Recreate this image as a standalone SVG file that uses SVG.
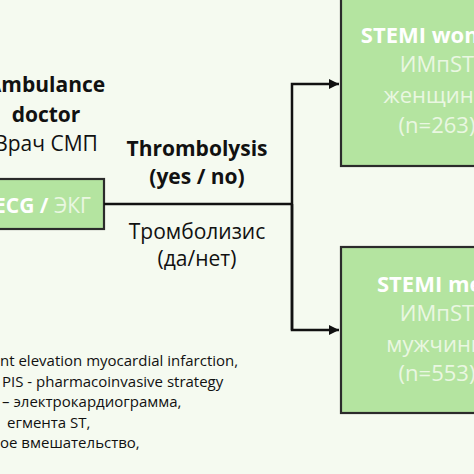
<svg xmlns="http://www.w3.org/2000/svg" width="474" height="474" viewBox="0 0 474 474">
<defs>
<marker id="arr" viewBox="0 0 10 10" refX="10" refY="5" markerWidth="4" markerHeight="4" markerUnits="strokeWidth" orient="auto">
<path d="M0,0 L10,5 L0,10 z" fill="#111"/>
</marker>
<style>
.box{fill:#b4e4a0;stroke:#2b2b2b;stroke-width:2.2}
.t{font-family:"Open Sans","Liberation Sans",sans-serif;fill:#111}
.b{font-weight:bold}
.wb{font-family:"Open Sans","Liberation Sans",sans-serif;font-weight:bold;fill:#ffffff}
.wr{font-family:"Open Sans","Liberation Sans",sans-serif;fill:#eaf7e2}
.conn{fill:none;stroke:#111;stroke-width:2.5}
.fn{font-family:"Open Sans","Liberation Sans",sans-serif;font-size:15px;fill:#111}
</style>
</defs>
<rect x="0" y="0" width="474" height="474" fill="#f5faf0"/>

<g id="ambulance">
<text class="t b" x="46" y="92" font-size="21" text-anchor="middle">Ambulance</text>
<text class="t b" x="46" y="122" font-size="21" text-anchor="middle">doctor</text>
<text class="t" x="46" y="151" font-size="21" text-anchor="middle">Врач СМП</text>
</g>

<g id="ecg">
<rect class="box" x="-4" y="179" width="108" height="50"/>
<text x="-6" y="213" font-size="21"><tspan class="wb">ECG /</tspan><tspan class="wr"> ЭКГ</tspan></text>
</g>

<g id="thrombolysis-label">
<text class="t b" x="197" y="156" font-size="21" text-anchor="middle">Thrombolysis</text>
<text class="t b" x="197" y="184" font-size="21" text-anchor="middle">(yes / no)</text>
<text class="t" x="197" y="239" font-size="21" text-anchor="middle">Тромболизис</text>
<text class="t" x="197" y="266" font-size="21" text-anchor="middle">(да/нет)</text>
</g>

<g id="connectors">
<polyline class="conn" points="104,204 292,204"/>
<polyline class="conn" points="292,330 292,84 339,84" marker-end="url(#arr)"/>
<polyline class="conn" points="292,204 292,330 339,330" marker-end="url(#arr)"/>
</g>

<g id="stemi-women">
<rect class="box" x="341" y="-2" width="200" height="168"/>
<text class="wb" x="437" y="43" font-size="22" text-anchor="middle">STEMI women</text>
<text class="wr" x="437" y="72" font-size="22" text-anchor="middle">ИМпST</text>
<text class="wr" x="437" y="103" font-size="22" text-anchor="middle">женщины</text>
<text class="wr" x="437" y="133" font-size="22" text-anchor="middle">(n=263)</text>
</g>

<g id="stemi-men">
<rect class="box" x="341" y="247" width="200" height="166"/>
<text class="wb" x="437" y="292" font-size="22" text-anchor="middle">STEMI men</text>
<text class="wr" x="437" y="321" font-size="22" text-anchor="middle">ИМпST</text>
<text class="wr" x="437" y="352" font-size="22" text-anchor="middle">мужчины</text>
<text class="wr" x="437" y="381" font-size="22" text-anchor="middle">(n=553)</text>
</g>

<g id="footnote">
<text class="fn" x="0" y="366">nt elevation myocardial infarction,</text>
<text class="fn" x="2" y="387">PIS - pharmacoinvasive strategy</text>
<text class="fn" x="2" y="407">– электрокардиограмма,</text>
<text class="fn" x="7" y="428">егмента ST,</text>
<text class="fn" x="0" y="448">ое вмешательство,</text>
</g>
</svg>
